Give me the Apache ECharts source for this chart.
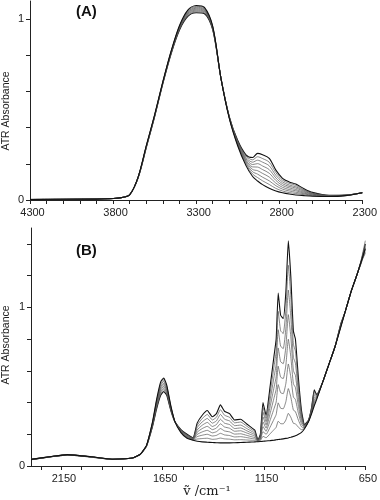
<!DOCTYPE html>
<html><head><meta charset="utf-8">
<script src="https://cdn.jsdelivr.net/npm/echarts@6/dist/echarts.min.js"></script>
<style>html,body{margin:0;padding:0;background:#fff}#c{width:380px;height:500px}</style>
</head><body><div id="c"></div>
<script>
// ---- Panel A (wavenumber, cm-1) ----
const wnA = [4300,3900,3800,3750,3700,3650,3600,3550,3500,3450,3400,3350,3300,3250,3200,3150,3100,3050,3000,2960,2930,2900,2860,2820,2780,2740,2700,2650,2600,2500,2400,2300];
const A1 = [.003,.005,.008,.013,.030,.120,.290,.460,.645,.810,.940,1.015,1.035,1.030,.940,.670,.460,.330,.250,.235,.258,.250,.230,.165,.120,.100,.088,.062,.042,.026,.027,.040];
const A2 = [.003,.005,.008,.013,.030,.121,.291,.461,.646,.812,.943,1.019,1.040,1.034,.943,.670,.459,.326,.243,.222,.239,.229,.209,.151,.110,.092,.081,.057,.039,.025,.027,.040];
const A3 = [.003,.005,.008,.013,.030,.121,.293,.463,.648,.814,.946,1.024,1.045,1.039,.945,.670,.458,.323,.235,.209,.220,.209,.189,.136,.100,.083,.073,.053,.037,.024,.026,.040];
const A4 = [.003,.005,.008,.013,.029,.122,.294,.464,.649,.816,.949,1.028,1.050,1.043,.948,.670,.456,.319,.228,.196,.201,.188,.168,.122,.090,.075,.066,.048,.034,.023,.026,.040];
const A5 = [.003,.005,.008,.013,.029,.123,.295,.465,.650,.818,.953,1.033,1.055,1.048,.950,.670,.455,.315,.220,.183,.182,.168,.148,.108,.080,.067,.058,.043,.032,.023,.026,.040];
const A6 = [.003,.005,.008,.013,.029,.123,.296,.466,.651,.819,.956,1.037,1.060,1.052,.953,.670,.454,.311,.213,.169,.162,.147,.127,.093,.070,.058,.051,.038,.029,.022,.025,.040];
const A7 = [.003,.005,.008,.013,.028,.124,.298,.468,.653,.821,.959,1.041,1.065,1.056,.955,.670,.453,.308,.205,.156,.143,.126,.106,.079,.060,.050,.043,.034,.026,.021,.025,.040];
const A8 = [.003,.005,.008,.013,.028,.124,.299,.469,.654,.823,.962,1.046,1.070,1.061,.958,.670,.451,.304,.198,.143,.124,.106,.086,.064,.050,.041,.036,.029,.024,.020,.024,.040];
const A9 = [.003,.005,.008,.013,.028,.125,.300,.470,.655,.825,.965,1.050,1.075,1.065,.960,.670,.450,.300,.190,.130,.105,.085,.065,.050,.040,.033,.028,.024,.021,.019,.024,.040];

// ---- Panel B ----
const wnB = [2300,2200,2120,2000,1900,1800,1760,1730,1700,1680,1660,1645,1630,1610,1590,1560,1530,1500,1480,1455,1430,1405,1385,1365,1345,1320,1295,1265,1235,1210,1195,1180,1168,1155,1140,1120,1100,1090,1080,1068,1055,1042,1030,1018,1005,995,980,965,950,930,915,902,890,860,830,800,770,750,720,690,670,650];
const B1 = [.040,.058,.070,.056,.042,.050,.074,.125,.250,.360,.445,.470,.445,.350,.280,.230,.200,.178,.270,.320,.350,.310,.330,.385,.345,.330,.290,.295,.265,.240,.225,.165,.200,.400,.320,.500,.700,.800,1.090,.950,.930,1.100,1.420,1.200,.850,.800,.550,.350,.260,.290,.370,.480,.450,.530,.640,.750,.900,.970,1.100,1.210,1.29,1.40];
const B2 = [.040,.058,.070,.056,.042,.050,.074,.126,.254,.368,.456,.481,.453,.354,.280,.228,.197,.176,.256,.299,.325,.290,.307,.355,.320,.307,.272,.277,.251,.229,.216,.164,.194,.370,.300,.458,.633,.721,.975,.852,.835,.984,1.265,1.073,.767,.724,.506,.333,.257,.289,.365,.468,.446,.530,.640,.750,.898,.970,1.100,1.210,1.30,1.42];
const B3 = [.041,.059,.071,.057,.042,.050,.074,.126,.258,.375,.466,.491,.461,.358,.280,.225,.194,.174,.242,.278,.300,.270,.284,.325,.295,.284,.254,.258,.236,.218,.207,.162,.189,.339,.280,.415,.566,.641,.859,.755,.740,.869,1.109,.945,.684,.648,.463,.316,.254,.288,.360,.455,.443,.530,.640,.750,.895,.970,1.100,1.210,1.28,1.38];
const B4 = [.041,.059,.071,.057,.042,.050,.074,.127,.261,.383,.477,.502,.469,.361,.280,.223,.191,.172,.227,.257,.275,.249,.261,.295,.270,.261,.236,.240,.222,.207,.198,.161,.183,.309,.259,.373,.499,.562,.744,.657,.645,.753,.954,.818,.601,.571,.419,.298,.251,.286,.355,.443,.439,.530,.640,.750,.893,.970,1.100,1.210,1.29,1.36];
const B5 = [.041,.059,.071,.057,.043,.050,.075,.128,.265,.390,.488,.513,.478,.365,.280,.220,.188,.170,.213,.236,.250,.229,.239,.266,.246,.238,.219,.222,.208,.196,.189,.159,.177,.278,.239,.330,.432,.483,.629,.560,.551,.637,.799,.691,.518,.495,.375,.281,.248,.285,.350,.430,.435,.530,.640,.750,.890,.970,1.100,1.210,1.30,1.39];
const B6 = [.041,.059,.071,.057,.043,.050,.075,.128,.269,.398,.498,.523,.486,.369,.280,.218,.184,.168,.199,.215,.225,.209,.216,.236,.221,.215,.201,.203,.193,.184,.179,.158,.171,.248,.219,.288,.364,.403,.513,.462,.456,.521,.643,.563,.435,.419,.331,.264,.244,.284,.345,.418,.431,.530,.640,.750,.888,.970,1.100,1.210,1.28,1.35];
const B7 = [.042,.060,.072,.058,.043,.050,.075,.129,.273,.405,.509,.534,.494,.373,.280,.215,.181,.166,.185,.194,.200,.189,.193,.206,.196,.192,.183,.185,.179,.173,.170,.156,.166,.217,.199,.245,.297,.324,.398,.364,.361,.406,.488,.436,.352,.343,.288,.247,.241,.283,.340,.405,.428,.530,.640,.750,.885,.970,1.100,1.210,1.29,1.37];
const B8 = [.042,.060,.072,.058,.043,.050,.075,.129,.276,.413,.519,.544,.502,.376,.280,.213,.178,.164,.170,.173,.175,.168,.170,.176,.171,.169,.165,.166,.164,.162,.161,.155,.160,.187,.178,.203,.230,.244,.282,.267,.266,.290,.332,.308,.269,.266,.244,.229,.238,.281,.335,.393,.424,.530,.640,.750,.883,.970,1.100,1.210,1.29,1.34];
const B9 = [.042,.060,.072,.058,.043,.050,.075,.130,.280,.420,.530,.555,.510,.380,.280,.210,.175,.162,.156,.152,.150,.148,.147,.146,.146,.146,.147,.148,.150,.151,.152,.153,.154,.156,.158,.160,.163,.165,.167,.169,.171,.174,.177,.181,.186,.190,.200,.212,.235,.280,.330,.380,.420,.530,.640,.750,.880,.970,1.100,1.210,1.29,1.37];

// ---- ticks / labels ----
const xTicksA = [2300,2400,2500,2600,2700,2800,2900,3000,3100,3200,3300,3400,3500,3600,3700,3800,3900,4000,4100,4200,4300];
const xLabelsA = [2300,2800,3300,3800,4300];
const xTicksB = [650,750,850,950,1050,1150,1250,1350,1450,1550,1650,1750,1850,1950,2050,2150,2250];
const xLabelsB = [650,1150,1650,2150];
const yTicksA = [0,0.2,0.4,0.6,0.8,1.0];
const yTicksB = [0,0.2,0.4,0.6,0.8,1.0,1.2,1.4];
const yLabels = [0,1];

const chart = echarts.init(document.getElementById('c'), null, {renderer:'canvas'});
const labelFont = {color:'#222',fontSize:11,fontFamily:'Liberation Sans, Arial, sans-serif',formatter:v=>String(v)};
function xAxis(gi,min,max,ticks,labels){
  return {type:'value',gridIndex:gi,min:min,max:max,inverse:true,
    axisLine:{show:true,onZero:false,lineStyle:{color:'#222',width:1}},
    splitLine:{show:false},
    axisTick:{show:true,length:4,inside:false,customValues:ticks,lineStyle:{color:'#222'}},
    axisLabel:Object.assign({},labelFont,{customValues:labels,margin:7,showMinLabel:true,showMaxLabel:true,padding:[0,0,0,5]})};
}
function yAxis(gi,max,ticks){
  return {type:'value',gridIndex:gi,min:0,max:max,
    axisLine:{show:true,onZero:false,lineStyle:{color:'#222',width:1}},
    splitLine:{show:false},
    axisTick:{show:true,length:4,customValues:ticks,lineStyle:{color:'#222'}},
    axisLabel:Object.assign({},labelFont,{customValues:yLabels,margin:6})};
}
const seriesA = [A1,A2,A3,A4,A5,A6,A7,A8,A9];
const seriesB = [B1,B2,B3,B4,B5,B6,B7,B8,B9];
const series = [];
function style(i,n){ return (i===0||i===n-1)?{color:'#111',width:1.1}:{color:'#555',width:0.7}; }
seriesA.forEach((arr,i)=>series.push({type:'line',xAxisIndex:0,yAxisIndex:0,showSymbol:false,smooth:0.3,
  lineStyle:style(i,seriesA.length),data:wnA.map((w,j)=>[w,arr[j]]),silent:true}));
seriesB.forEach((arr,i)=>series.push({type:'line',xAxisIndex:1,yAxisIndex:1,showSymbol:false,smooth:0.15,
  lineStyle:style(i,seriesB.length),data:wnB.map((w,j)=>[w,arr[j]]),silent:true}));

chart.setOption({
  animation:false,
  grid:[{left:30,top:1,width:338,height:199},{left:31,top:228,width:335,height:238}],
  xAxis:[xAxis(0,2300,4300,xTicksA,xLabelsA), xAxis(1,650,2300,xTicksB,xLabelsB)],
  yAxis:[yAxis(0,1.1,yTicksA), yAxis(1,1.5,yTicksB)],
  series:series,
  graphic:[
    {type:'text',left:76,top:4,style:{text:'(A)',font:'bold 15px Liberation Sans, Arial, sans-serif',fill:'#111'}},
    {type:'text',left:76,top:243,style:{text:'(B)',font:'bold 15px Liberation Sans, Arial, sans-serif',fill:'#111'}},
    {type:'text',x:6,y:111,rotation:Math.PI/2,style:{text:'ATR Absorbance',font:'10.5px Liberation Sans, Arial, sans-serif',fill:'#222',align:'center',verticalAlign:'middle'}},
    {type:'text',x:6,y:345,rotation:Math.PI/2,style:{text:'ATR Absorbance',font:'10.5px Liberation Sans, Arial, sans-serif',fill:'#222',align:'center',verticalAlign:'middle'}},
    {type:'text',x:207,y:492,style:{text:'\u1E7D /cm\u207B\u00B9',font:'13px DejaVu Serif, Liberation Serif, serif',fill:'#222',align:'center',verticalAlign:'middle'}}
  ]
});
</script></body></html>
